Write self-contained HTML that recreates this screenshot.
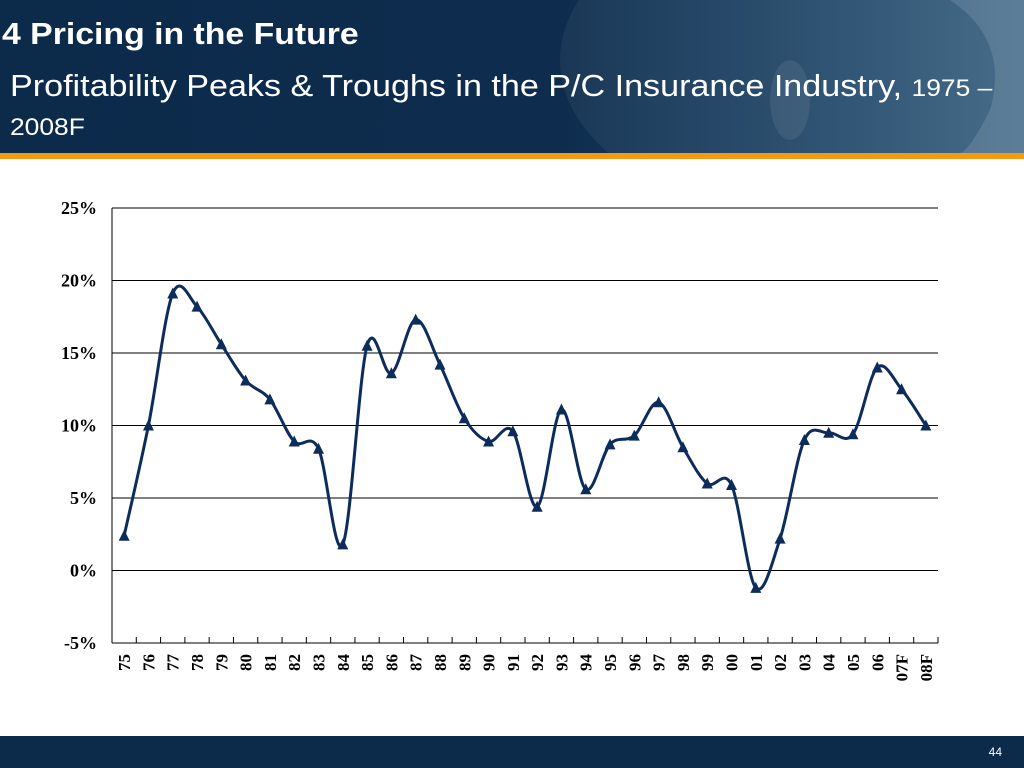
<!DOCTYPE html>
<html><head><meta charset="utf-8"><style>
body{margin:0;width:1024px;height:768px;overflow:hidden;background:#fff;font-family:"Liberation Sans",sans-serif;position:relative}
#hdr{position:absolute;left:0;top:0;width:1024px;height:153px;background:linear-gradient(90deg,#0c2a4a 0%,#0e2d4e 55%,#244a6b 80%,#3d6584 100%);overflow:hidden}
#orange{position:absolute;left:0;top:153px;width:1024px;height:6px;background:#f29a12}
#t1{position:absolute;left:2px;top:16px;color:#fff;font-weight:bold;font-size:31px;transform:scaleX(1.09);transform-origin:0 0;white-space:nowrap}
#t2{position:absolute;left:10px;top:68px;color:#fff;font-size:31px;line-height:36px;transform:scaleX(1.1);transform-origin:0 0;white-space:nowrap}
#ftr{position:absolute;left:0;top:736px;width:1024px;height:32px;background:#0c2a4a}
#pg{position:absolute;right:22px;top:745px;color:#fff;font-size:12px}
</style></head><body>
<div id="hdr">
<svg width="1024" height="153" style="position:absolute;left:0;top:0">
<ellipse cx="820" cy="60" rx="260" ry="160" fill="rgba(255,255,255,0.05)"/>
<ellipse cx="790" cy="100" rx="20" ry="40" fill="rgba(255,255,255,0.08)"/>
<path d="M950 0 Q1010 40 990 110 Q970 150 960 153 L1024 153 L1024 0Z" fill="rgba(255,255,255,0.12)"/>
</svg>
<div id="t1">4 Pricing in the Future</div>
<div id="t2">Profitability Peaks &amp; Troughs in the P/C Insurance Industry, <span style="font-size:24px">1975 –<br>2008F</span></div>
</div>
<div id="orange"></div>
<svg id="ch" width="1024" height="736" style="position:absolute;left:0;top:0" font-family="Liberation Serif,serif" font-weight="bold"></svg>
<div id="ftr"></div><div id="pg">44</div>
<script>
var s=document.getElementById('ch'),h='';
var x0=112,x1=938,y0=570.5,k=14.5;
for(var i=-1;i<=5;i++){var y=y0-i*5*k;
 h+='<line x1="'+x0+'" x2="'+x1+'" y1="'+y+'" y2="'+y+'" stroke="#000" stroke-width="1"/>';
 h+='<text x="97" y="'+(y+6)+'" text-anchor="end" font-size="18">'+(i*5)+'%</text>';}
h+='<line x1="'+x0+'" x2="'+x0+'" y1="208" y2="643" stroke="#000"/>';
var labs=['75','76','77','78','79','80','81','82','83','84','85','86','87','88','89','90','91','92','93','94','95','96','97','98','99','00','01','02','03','04','05','06','07F','08F'];
var v=[2.4,10,19.1,18.2,15.6,13.1,11.8,8.9,8.4,1.8,15.5,13.6,17.3,14.2,10.5,8.9,9.6,4.4,11.1,5.6,8.7,9.3,11.6,8.5,6.0,5.9,-1.2,2.2,9.0,9.5,9.4,14.0,12.5,10.0];
var w=(x1-x0)/34,P=[];
for(var i=0;i<=34;i++){var x=x0+i*w;h+='<line x1="'+x+'" x2="'+x+'" y1="643" y2="637" stroke="#000"/>';}
for(var i=0;i<34;i++){var x=x0+(i+.5)*w;P.push([x,y0-v[i]*k]);
 h+='<text transform="translate('+(x+6)+',654) rotate(-90)" text-anchor="end" font-size="17">'+labs[i]+'</text>';}
var d='M'+P[0][0]+' '+P[0][1];
for(var i=0;i<33;i++){var a=P[Math.max(i-1,0)],b=P[i],c=P[i+1],e=P[Math.min(i+2,33)];
 d+=' C'+(b[0]+(c[0]-a[0])/6)+' '+(b[1]+(c[1]-a[1])/6)+' '+(c[0]-(e[0]-b[0])/6)+' '+(c[1]-(e[1]-b[1])/6)+' '+c[0]+' '+c[1];}
h+='<path d="'+d+'" fill="none" stroke="#0c2d5c" stroke-width="3"/>';
P.forEach(function(p){h+='<path d="M'+p[0]+' '+(p[1]-6)+' L'+(p[0]+5.5)+' '+(p[1]+5)+' L'+(p[0]-5.5)+' '+(p[1]+5)+'Z" fill="#0c2d5c"/>';});
s.innerHTML=h;
</script>
</body></html>
